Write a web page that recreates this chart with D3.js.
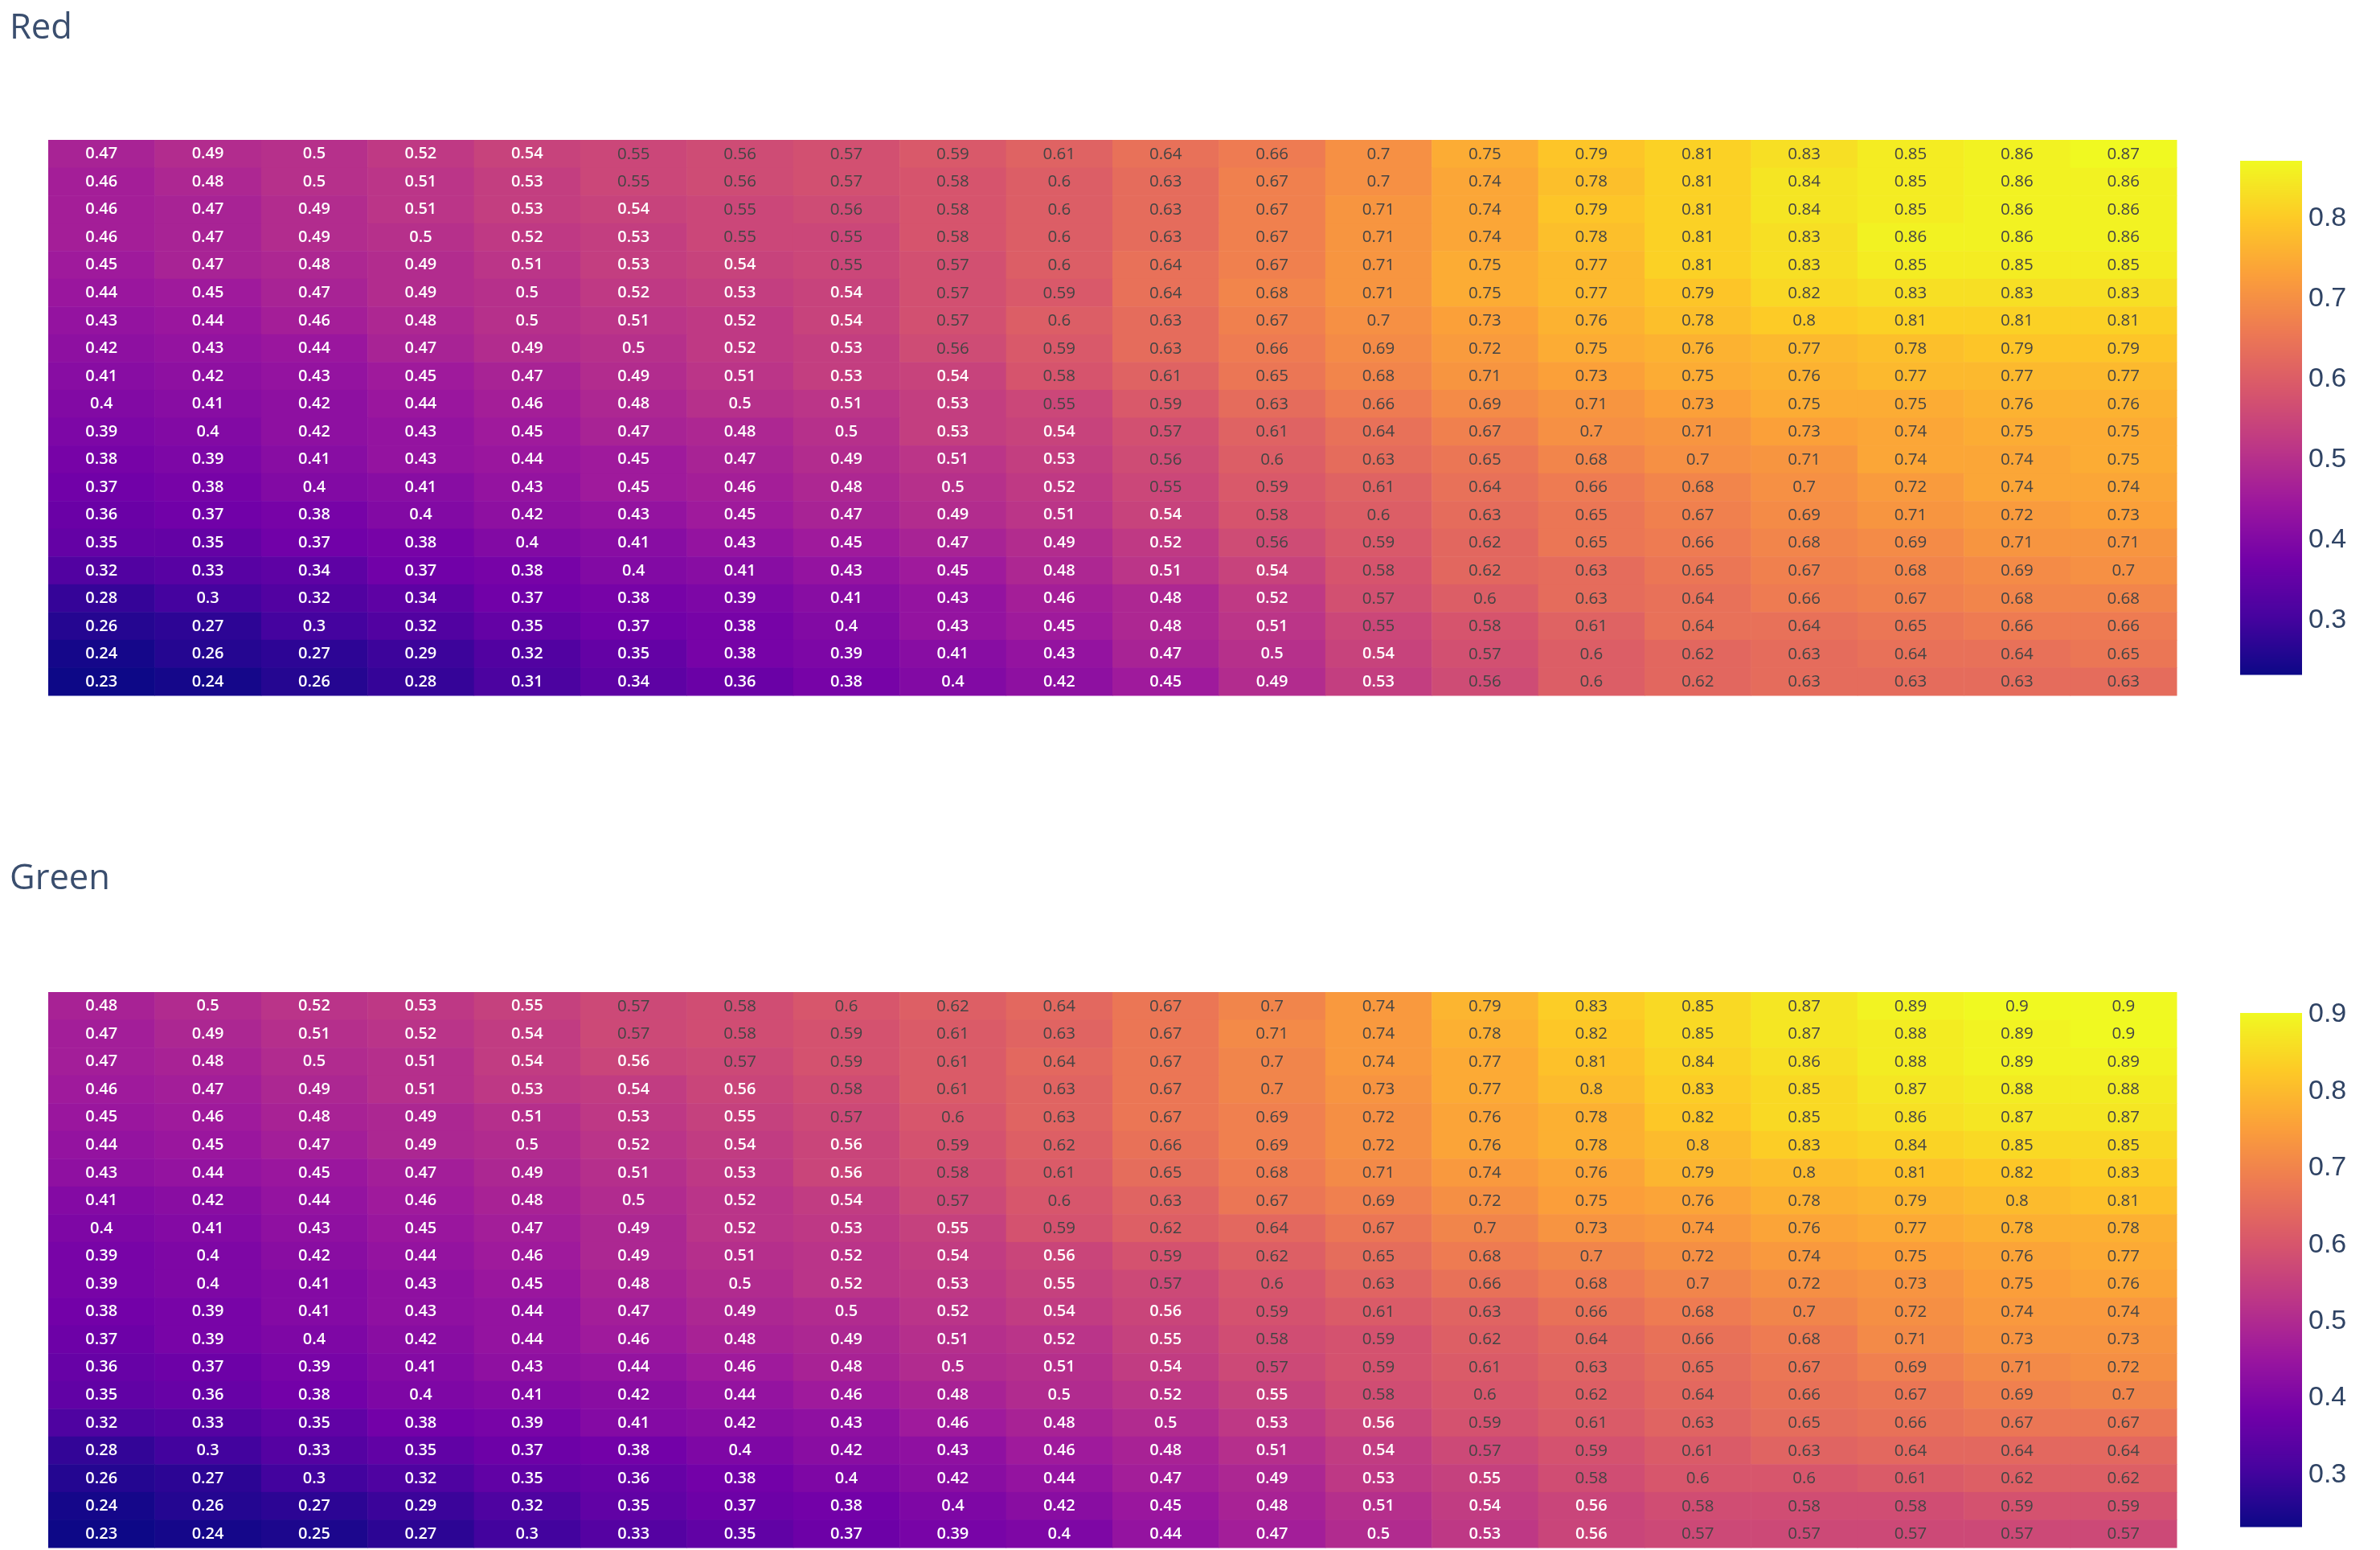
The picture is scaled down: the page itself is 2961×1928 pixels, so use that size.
<!DOCTYPE html>
<html>
<head>
<meta charset="utf-8">
<script src="https://cdn.jsdelivr.net/npm/d3@7/dist/d3.min.js"></script>
<style>
html,body{margin:0;padding:0;background:#fff;}
svg{display:block;font-family:"Open Sans",sans-serif;}
.cell-text{font-size:20.5px;text-anchor:middle;dominant-baseline:central;filter:blur(.6px);}
.cell-text.light{font-weight:600;font-size:20px;}
.title{font-size:43.5px;fill:#3a4e6e;filter:blur(.6px);}
.cbar .tick text{font-size:34px;fill:#2f4364;filter:blur(.6px);}
</style>
</head>
<body>
<script>
const columns = d3.range(20);
const rows = d3.range(20);
const plasmaStops = ["#0d0887","#46039f","#7201a8","#9c179e","#bd3786","#d8576b","#ed7953","#fb9f3a","#fdca26","#f0f921"];
const panelTitles = ["Red","Green"];
const colorbarTicks = [[0.3,0.4,0.5,0.6,0.7,0.8],[0.3,0.4,0.5,0.6,0.7,0.8,0.9]];

const redValues = [
[.47,.49,.5,.52,.54,.55,.56,.57,.59,.61,.64,.66,.7,.75,.79,.81,.83,.85,.86,.87],
[.46,.48,.5,.51,.53,.55,.56,.57,.58,.6,.63,.67,.7,.74,.78,.81,.84,.85,.86,.86],
[.46,.47,.49,.51,.53,.54,.55,.56,.58,.6,.63,.67,.71,.74,.79,.81,.84,.85,.86,.86],
[.46,.47,.49,.5,.52,.53,.55,.55,.58,.6,.63,.67,.71,.74,.78,.81,.83,.86,.86,.86],
[.45,.47,.48,.49,.51,.53,.54,.55,.57,.6,.64,.67,.71,.75,.77,.81,.83,.85,.85,.85],
[.44,.45,.47,.49,.5,.52,.53,.54,.57,.59,.64,.68,.71,.75,.77,.79,.82,.83,.83,.83],
[.43,.44,.46,.48,.5,.51,.52,.54,.57,.6,.63,.67,.7,.73,.76,.78,.8,.81,.81,.81],
[.42,.43,.44,.47,.49,.5,.52,.53,.56,.59,.63,.66,.69,.72,.75,.76,.77,.78,.79,.79],
[.41,.42,.43,.45,.47,.49,.51,.53,.54,.58,.61,.65,.68,.71,.73,.75,.76,.77,.77,.77],
[.4,.41,.42,.44,.46,.48,.5,.51,.53,.55,.59,.63,.66,.69,.71,.73,.75,.75,.76,.76],
[.39,.4,.42,.43,.45,.47,.48,.5,.53,.54,.57,.61,.64,.67,.7,.71,.73,.74,.75,.75],
[.38,.39,.41,.43,.44,.45,.47,.49,.51,.53,.56,.6,.63,.65,.68,.7,.71,.74,.74,.75],
[.37,.38,.4,.41,.43,.45,.46,.48,.5,.52,.55,.59,.61,.64,.66,.68,.7,.72,.74,.74],
[.36,.37,.38,.4,.42,.43,.45,.47,.49,.51,.54,.58,.6,.63,.65,.67,.69,.71,.72,.73],
[.35,.35,.37,.38,.4,.41,.43,.45,.47,.49,.52,.56,.59,.62,.65,.66,.68,.69,.71,.71],
[.32,.33,.34,.37,.38,.4,.41,.43,.45,.48,.51,.54,.58,.62,.63,.65,.67,.68,.69,.7],
[.28,.3,.32,.34,.37,.38,.39,.41,.43,.46,.48,.52,.57,.6,.63,.64,.66,.67,.68,.68],
[.26,.27,.3,.32,.35,.37,.38,.4,.43,.45,.48,.51,.55,.58,.61,.64,.64,.65,.66,.66],
[.24,.26,.27,.29,.32,.35,.38,.39,.41,.43,.47,.5,.54,.57,.6,.62,.63,.64,.64,.65],
[.23,.24,.26,.28,.31,.34,.36,.38,.4,.42,.45,.49,.53,.56,.6,.62,.63,.63,.63,.63]
];

const greenValues = [
[.48,.5,.52,.53,.55,.57,.58,.6,.62,.64,.67,.7,.74,.79,.83,.85,.87,.89,.9,.9],
[.47,.49,.51,.52,.54,.57,.58,.59,.61,.63,.67,.71,.74,.78,.82,.85,.87,.88,.89,.9],
[.47,.48,.5,.51,.54,.56,.57,.59,.61,.64,.67,.7,.74,.77,.81,.84,.86,.88,.89,.89],
[.46,.47,.49,.51,.53,.54,.56,.58,.61,.63,.67,.7,.73,.77,.8,.83,.85,.87,.88,.88],
[.45,.46,.48,.49,.51,.53,.55,.57,.6,.63,.67,.69,.72,.76,.78,.82,.85,.86,.87,.87],
[.44,.45,.47,.49,.5,.52,.54,.56,.59,.62,.66,.69,.72,.76,.78,.8,.83,.84,.85,.85],
[.43,.44,.45,.47,.49,.51,.53,.56,.58,.61,.65,.68,.71,.74,.76,.79,.8,.81,.82,.83],
[.41,.42,.44,.46,.48,.5,.52,.54,.57,.6,.63,.67,.69,.72,.75,.76,.78,.79,.8,.81],
[.4,.41,.43,.45,.47,.49,.52,.53,.55,.59,.62,.64,.67,.7,.73,.74,.76,.77,.78,.78],
[.39,.4,.42,.44,.46,.49,.51,.52,.54,.56,.59,.62,.65,.68,.7,.72,.74,.75,.76,.77],
[.39,.4,.41,.43,.45,.48,.5,.52,.53,.55,.57,.6,.63,.66,.68,.7,.72,.73,.75,.76],
[.38,.39,.41,.43,.44,.47,.49,.5,.52,.54,.56,.59,.61,.63,.66,.68,.7,.72,.74,.74],
[.37,.39,.4,.42,.44,.46,.48,.49,.51,.52,.55,.58,.59,.62,.64,.66,.68,.71,.73,.73],
[.36,.37,.39,.41,.43,.44,.46,.48,.5,.51,.54,.57,.59,.61,.63,.65,.67,.69,.71,.72],
[.35,.36,.38,.4,.41,.42,.44,.46,.48,.5,.52,.55,.58,.6,.62,.64,.66,.67,.69,.7],
[.32,.33,.35,.38,.39,.41,.42,.43,.46,.48,.5,.53,.56,.59,.61,.63,.65,.66,.67,.67],
[.28,.3,.33,.35,.37,.38,.4,.42,.43,.46,.48,.51,.54,.57,.59,.61,.63,.64,.64,.64],
[.26,.27,.3,.32,.35,.36,.38,.4,.42,.44,.47,.49,.53,.55,.58,.6,.6,.61,.62,.62],
[.24,.26,.27,.29,.32,.35,.37,.38,.4,.42,.45,.48,.51,.54,.56,.58,.58,.58,.59,.59],
[.23,.24,.25,.27,.3,.33,.35,.37,.39,.4,.44,.47,.5,.53,.56,.57,.57,.57,.57,.57]
];

const width = 2961, height = 1928;
const plotLeft = 60, plotRight = 2708;
const barLeft = 2787, barRight = 2864;
const panels = [
  {title: panelTitles[0], values: redValues, ticks: colorbarTicks[0], titleY: 47.5, top: 174, bottom: 865, barTop: 200, barBottom: 839},
  {title: panelTitles[1], values: greenValues, ticks: colorbarTicks[1], titleY: 1106, top: 1234, bottom: 1925, barTop: 1260, barBottom: 1899}
];

const svg = d3.select("body").append("svg").attr("width", width).attr("height", height);
svg.append("rect").attr("width", width).attr("height", height).attr("fill", "#fff");

panels.forEach(p => {
  const flat = p.values.flat();
  const [vMin, vMax] = d3.extent(flat);
  const mid = (vMin + vMax) / 2;
  const color = d3.scaleLinear()
    .domain(plasmaStops.map((_, i) => vMin + (vMax - vMin) * i / (plasmaStops.length - 1)))
    .range(plasmaStops)
    .interpolate(d3.interpolateRgb);

  const x = d3.scaleBand().domain(columns).range([plotLeft, plotRight]);
  const y = d3.scaleBand().domain(rows).range([p.top, p.bottom]);

  svg.append("text").attr("class", "title").attr("x", 12).attr("y", p.titleY).text(p.title);

  const cells = rows.flatMap(r => columns.map(c => ({r, c, v: p.values[r][c]})));
  const g = svg.append("g");
  g.selectAll("rect").data(cells).join("rect")
    .attr("x", d => x(d.c)).attr("y", d => y(d.r))
    .attr("width", x.bandwidth() + .5).attr("height", y.bandwidth() + .5)
    .attr("fill", d => color(d.v));
  const t = svg.append("g");
  t.selectAll("text").data(cells).join("text")
    .attr("class", d => d.v < mid ? "cell-text light" : "cell-text")
    .attr("x", d => x(d.c) + x.bandwidth() / 2)
    .attr("y", d => y(d.r) + y.bandwidth() / 2 - 1.5)
    .attr("fill", d => d.v < mid ? "#fff" : "#444")
    .text(d => String(d.v).replace(/^\./, "0."));

  // colour bar
  const barY = d3.scaleLinear().domain([vMin, vMax]).range([p.barBottom, p.barTop]);
  const steps = d3.range(p.barTop, p.barBottom);
  svg.append("g").selectAll("rect").data(steps).join("rect")
    .attr("x", barLeft).attr("width", barRight - barLeft)
    .attr("y", d => d).attr("height", 1.5)
    .attr("fill", d => color(barY.invert(d + .5)));
  const axis = d3.axisRight(barY).tickValues(p.ticks).tickSize(0).tickPadding(8).tickFormat(d3.format(".1f"));
  svg.append("g").attr("class", "cbar").attr("transform", `translate(${barRight},0)`).call(axis)
    .call(s => s.select(".domain").remove());
});
</script>
</body>
</html>
